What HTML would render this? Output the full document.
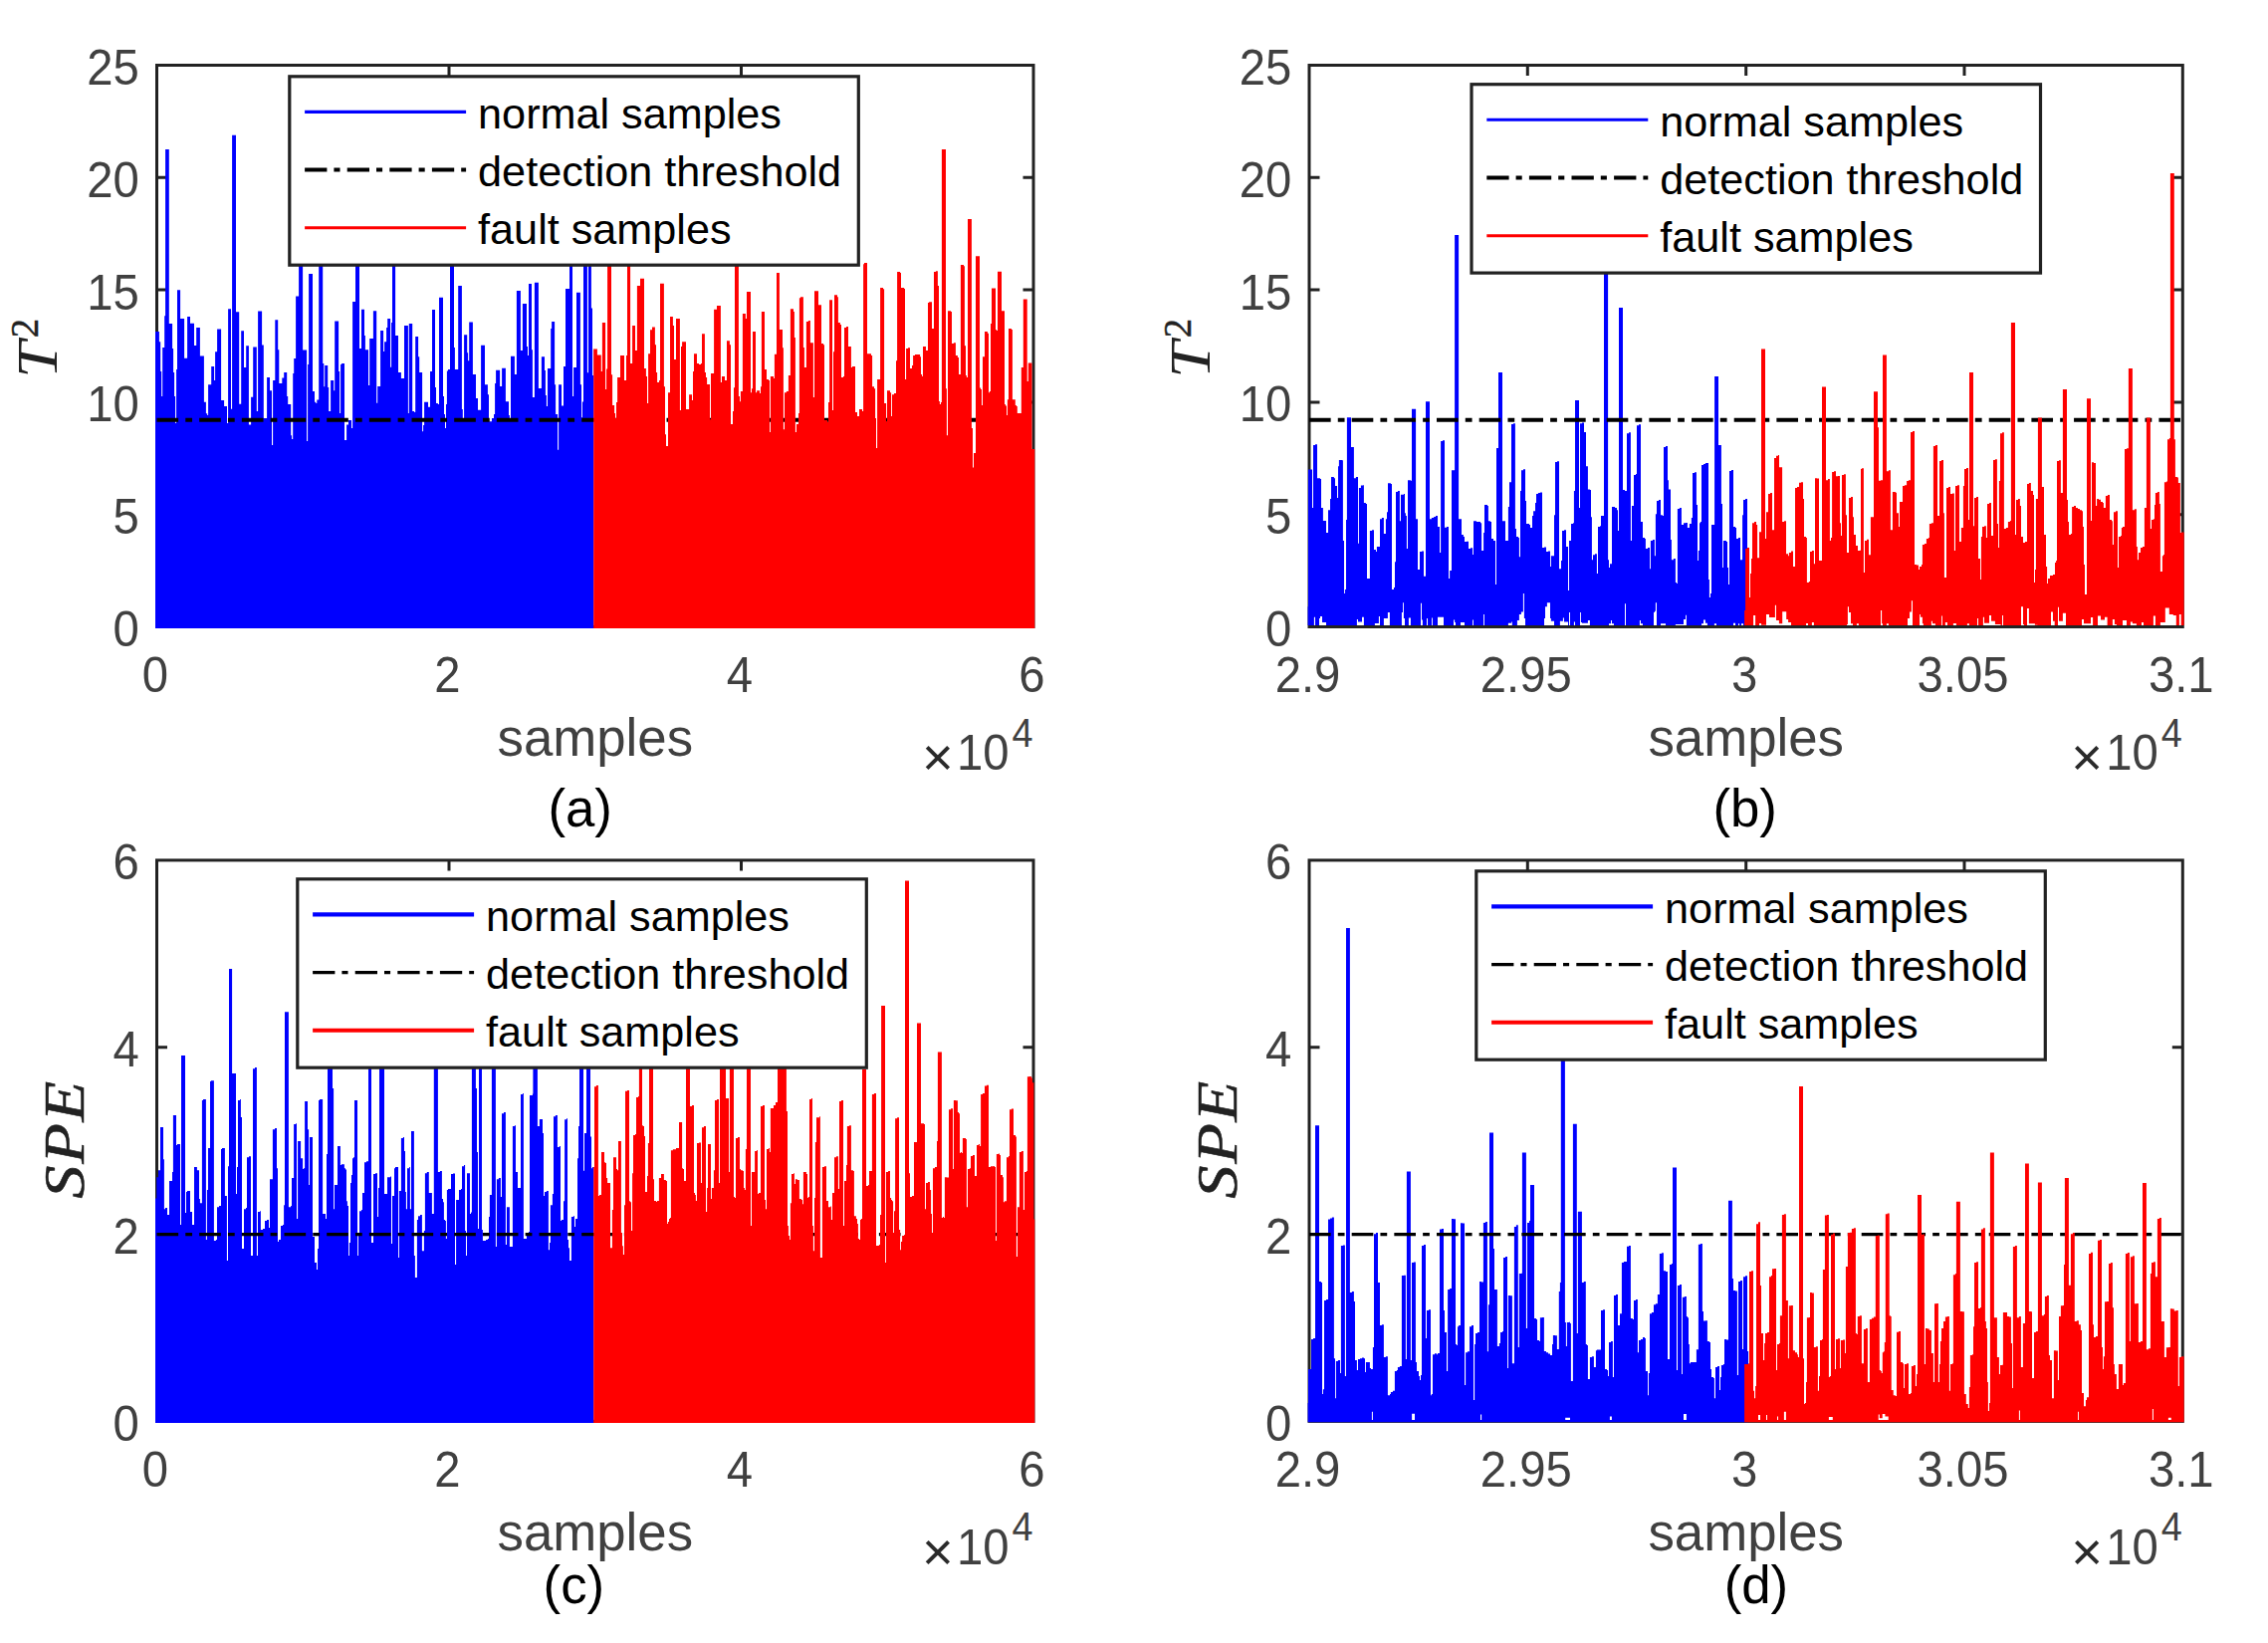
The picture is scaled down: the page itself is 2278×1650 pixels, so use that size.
<!DOCTYPE html>
<html lang="en"><head><meta charset="utf-8"><title>T2 and SPE monitoring charts</title>
<style>html,body{margin:0;padding:0;background:#fff}svg{display:block}</style></head><body>
<svg width="2278" height="1650" viewBox="0 0 2278 1650">
<rect width="2278" height="1650" fill="#fff"/>
<g id="panel-a">
<clipPath id="clip-a"><rect x="156" y="64" width="883.5" height="567"/></clipPath>
<rect x="157.5" y="65.5" width="880.5" height="564" fill="none" stroke="#222222" stroke-width="3"/>
<path d="M451 629.5v-10.5M451 65.5v10.5M744.5 629.5v-10.5M744.5 65.5v10.5M157.5 516.7h10.5M1038 516.7h-10.5M157.5 403.9h10.5M1038 403.9h-10.5M157.5 291.1h10.5M1038 291.1h-10.5M157.5 178.3h10.5M1038 178.3h-10.5" stroke="#222222" stroke-width="3" fill="none"/>
<g clip-path="url(#clip-a)">
<path d="M156 631V333.1H159.9V343.3H161.2V373H162.2V397.9H163.2V348.9H165.2V317.2H166.1V150H169.8V325.1H173.1V350.1H174.1V374.1H175.1V397.9H176.1V424.9H177.1V371H178V291.3H181.1V320.1H185.1V359.8H188.1V318.1H191V324.7H195V347H197.2V329.1H200.9V357.4H204.9V403.8H206.9V415.3H208.2V416.9H209.1V386.2H212.2V368.1H215.1V382H216.1V353.2H218.1V330.4H222.1V401.9H225.1V408.1H228V424.9H229.1V310.2H232V410.7H233.1V135.8H237V313.2H240.2V405.8H242.2V332.3H245V369H247.2V347.2H249.9V426.6H252.1V398.8H254.2V348.5H257.8V413H259.1V312.6H263.1V346.6H264.8V420H268.1V379H271V392.2H273V447.1H274.1V382H276.3V321.2H279.2V351.2H280.3V384.9H283.3V379.4H285.2V374.1H288.2V397.9H289.2V406.1H292.2V437.2H293.1V441.1H294.2V375H295.2V360.1H297.1V297.6H300.1V230.2H304.1V351.6H308.1V443.1H309.1V366.1H310.1V275.1H314V392.9H316V403.7H317.3V405H318.3V401.5H320.2V230.2H324.2V365.1H325.3V388.2H326.2V367.1H329.2V388.9H330.2V413H332.1V382H335.2V392.2H336.2V322.5H340.1V373H341.1V415.1H342.1V366.1H343.1V365.1H346V442.1H348.1V426.6H350V422H353V429.9H354.1V302.9H357V230.2H361V349.9H363V310.8H366V337H366.9V351.2H370V386.9H371.2V339.9H374.9V312.2H378.2V404.8H379.2V388H382.1V332H385.1V352.9H386.1V343.3H388.1V329.1H389.2V320.1H392.1V368.8H393.1V324.1H394V230.2H397.1V337H400V374.1H402.9V380H406V327.1H409.9V415.1H410.8V325.1H414.2V413H416.1V414H417.2V338H420.1V358.2H421.2V374.1H424.1V433.2H425.1V427H426.1V403.8H430V408.7H432V373H434V311.1H437V388.9H438V405H439.9V406.1H441V298.7H445V397.9H446V416H447V429.9H448V406.1H448.9V372.4H450V371H452V230.2H456V348.9H456.9V371H460.2V287H463.9V411.1H464.8V420.6H466.1V336.2H469.2V354.2H470.1V362.2H471.2V323.4H474.9V376.1H478V400.1H480V411.8H483.1V346.8H487V386.2H489.9V396.2H491V423.3H494V420H496V416H497.1V384.9H498.1V371.7H502.1V388H504.1V369.7H507.9V403.2H511V416.9H511.9V420.6H513V357.8H516.9V376.1H518.9V292.1H522.9V351.9H524.9V304.9H529V348.1H530V356.9H531V285.1H534V351.2H534.9V399.1H536.9V283.7H540.9V389.9H543.9V358.2H547V372.1H547.9V397.1H548.9V408.1H550V370.1H553.2V330H554.1V323.1H557.1V386.2H558.1V416H560.1V451.7H561.1V386.2H564V407.4H566V368.1H568V290.1H572V230.2H575V397.9H576.1V369H579V293.7H582.9V386.2H584V419.3H584.9V403.4H586V230.2H589.9V374.3H591V230.2H593.9V309.5H595V377H595.9V350.5H596.2V631Z" fill="#0000ff"/>
<path d="M157.5 421.7H1038" stroke="#000" stroke-width="4" stroke-dasharray="21.65 7.12 6.78 7.12" fill="none"/>
<path d="M596.2 631V350.5H599.9V356.5H603.8V373H604.9V324.1H608.1V390.9H609.1V370.4H610.1V230.2H614V376.3H615.1V407.1H617.1V415.1H618V420H619V404.1H620.1V379H623V356.9H627V382H629V357.1H630V230.2H633.1V365.1H635.1V327.1H638V351.9H639.9V287H643V279.8H647V370.1H648.9V378H650V405H651.1V355.2H653V331.3H655V328.4H657.9V346.3H659V374.1H660.1V384H662V382H663V284.7H666.9V388.2H668V436.2H669V448H671V394.2H673V318.1H675.9V327.1H677V361.1H679V320.1H682.9V412H684V348.1H685.1V343.3H689V411.1H692.1V396.2H695V402.1H696V373H697V355.2H700V365.1H702V366.1H704V365.1H705V335.3H707.9V374.1H709V379H710.1V386H713V421.3H714V375H717.1V310.8H720V306.9H723.9V384H725V378H728V382H730V342.2H732.9V346.2H734V425.9H736V413.1H737V389.2H738V230.2H741.9V398.1H743V403.2H743.9V393.1H745.9V315.1H748.9V320.1H750V293H754V394.2H755V390.2H756V333.1H759V394.2H760.1V392.2H763V395.1H764V388.2H764.9V313.1H768V371H770V381H772V382H773V434.1H773.9V378H777V380H777.9V355.8H780V274.1H782.9V331.1H786V349.2H786.9V431.2H788V394.2H789.9V393.1H791.9V377H793.9V310.2H797V313.1H797.9V339H798.9V434.1H800V425.9H802V415.1H802.9V299.2H804V298.3H806.9V348.9H807.9V369H809.9V323.1H811.9V322.1H813.9V344.2H816.9V399.1H818V292.3H822V306.2H825V345H827V346.3H828V422H831V423.9H832V404.1H833.1V301.2H836V412H837V353.2H838V296.3H841V298.3H841.9V324.1H843.9V326.1H845V379H847V378H848V329.1H850V328H852V348.1H854.9V369H856V368.1H859V414H861V418H863V411.1H866V413.1H867.1V265.2H868V263.9H871V355.2H875V357.1H876.1V388.2H878V390.2H879.1V420H880V450H881.1V381H884.1V289H887V290.3H888.1V405H890.1V423.3H891V392.2H894V394.2H895.1V418H896V396.2H898V395.1H900V362.2H901.1V273.1H904.1V274.1H905V289H908.1V290.1H909V381H910.1V350.1H912V349.2H914V370.1H916V367.1H917.1V357.1H919V356.1H924.1V358.2H925V376.1H926.1V378H927V348.1H930V351.9H932V304H933.1V303.2H936V330H938V273.1H939.9V272.2H941.9V287H943V403H943.9V406.1H945V404.1H945.9V150H950V390.2H950.9V437.2H952V312.2H955V313.1H956V345H957.9V344.2H959.9V356.9H961.9V359.1H963V376.1H964.9V266.1H968V267.2H968.9V347.2H970V377H970.9V379H972V220H975.9V429.9H977V469.6H978V455H980V257.3H984V389.6H985.1V391.1H986V407H987V358.2H989V333.1H991.9V334.7H993V394.2H994V393.1H995V325.1H996V289.4H1000V331.1H1000.9V332H1002V272.8H1006V312.2H1009V406.1H1009.9V407.4H1011V416.9H1011.9V401.2H1013V330H1015.9V331.1H1016.9V401.2H1019.8V407H1020.9V408.1H1021.8V415.1H1025.8V369H1027.8V300.5H1031.7V382.9H1032.8V364.4H1036.5V451.1H1039.5V631Z" fill="#ff0000"/>
</g>
<rect x="290.8" y="76.8" width="571.5" height="189.4" fill="#fff" stroke="#222222" stroke-width="3.2"/>
<path d="M306.1 112.4H468.1" stroke="#0000ff" stroke-width="3.1"/>
<path d="M306.1 170.6H468.1" stroke="#000" stroke-width="4" stroke-dasharray="22.3 7 6.1 7.2"/>
<path d="M306.1 228.8H468.1" stroke="#ff0000" stroke-width="3.1"/>
<g font-family="'Liberation Sans', Arial, Helvetica, sans-serif" font-size="43.2" fill="#000">
<text x="480.1" y="128.9">normal samples</text>
<text x="480.1" y="187.1">detection threshold</text>
<text x="480.1" y="245.3">fault samples</text>
</g>
<g font-family="'Liberation Sans', Arial, Helvetica, sans-serif" font-size="48" fill="#404040">
<text transform="translate(156 695.2) scale(0.985 1.045)" text-anchor="middle">0</text>
<text transform="translate(449.5 695.2) scale(0.985 1.045)" text-anchor="middle">2</text>
<text transform="translate(743 695.2) scale(0.985 1.045)" text-anchor="middle">4</text>
<text transform="translate(1036.5 695.2) scale(0.985 1.045)" text-anchor="middle">6</text>
<text transform="translate(139.8 649) scale(0.985 1.045)" text-anchor="end">0</text>
<text transform="translate(139.8 536.2) scale(0.985 1.045)" text-anchor="end">5</text>
<text transform="translate(139.8 423.4) scale(0.985 1.045)" text-anchor="end">10</text>
<text transform="translate(139.8 310.6) scale(0.985 1.045)" text-anchor="end">15</text>
<text transform="translate(139.8 197.8) scale(0.985 1.045)" text-anchor="end">20</text>
<text transform="translate(139.8 85) scale(0.985 1.045)" text-anchor="end">25</text>
<text x="926" y="779" font-size="54.4" fill="#2a2a2a">×</text>
<text transform="translate(961 773.1) scale(0.985 1.045)">10</text>
<text transform="translate(1016.4 749.5) scale(0.985 1.045)" font-size="38.4">4</text>
</g>
<text x="597.8" y="759.4" text-anchor="middle" font-family="'Liberation Sans', Arial, Helvetica, sans-serif" font-size="52.8" fill="#404040">samples</text>
<text x="582.7" y="830" text-anchor="middle" font-family="'Liberation Sans', Arial, Helvetica, sans-serif" font-size="52.8" fill="#000">(a)</text>
<g font-family="'Liberation Serif', 'Times New Roman', serif" fill="#222">
<text transform="translate(57.1 379.9) rotate(-90) scale(1.2 1)" font-style="italic" font-size="56">T</text>
<text transform="translate(38.1 339.3) rotate(-90)" font-size="39" stroke="#222" stroke-width="0.4">2</text>
</g>
</g>
<g id="panel-b">
<clipPath id="clip-b"><rect x="1313.5" y="64" width="880.3" height="567"/></clipPath>
<rect x="1315" y="65.5" width="877.3" height="564" fill="none" stroke="#222222" stroke-width="3"/>
<path d="M1534.3 629.5v-10.5M1534.3 65.5v10.5M1753.7 629.5v-10.5M1753.7 65.5v10.5M1973 629.5v-10.5M1973 65.5v10.5M1315 516.7h10.5M2192.3 516.7h-10.5M1315 403.9h10.5M2192.3 403.9h-10.5M1315 291.1h10.5M2192.3 291.1h-10.5M1315 178.3h10.5M2192.3 178.3h-10.5" stroke="#222222" stroke-width="3" fill="none"/>
<g clip-path="url(#clip-b)">
<path d="M1313.2 628V609.2H1314V471.6H1318V509.9H1319V447.1H1321V446.2H1323V480.2H1326V481.1H1327V509.9H1328.9V522.9H1332V535.1H1334V512.2H1336V501.1H1337V479.1H1339.9V480.2H1341V488.1H1343V500H1344V468.3H1344.9V462.1H1348V462.3H1348.9V543H1350V595.9H1350.9V592H1352V521.9H1352.9V419.3H1357V449.1H1359.9V480.2H1361.9V479.1H1364V545.7H1364.9V490.1H1366.9V487.5H1368.9V487.2H1369.9V505.1H1371.9V506H1373V581.1H1375.9V533.1H1378V532.2H1380V552H1382V554H1382.9V549H1386V521.2H1387.9V520.1H1389.9V536.1H1391.9V521.2H1393V514.2H1394V485.2H1396.9V486.1H1398V592H1400V590H1401V564.2H1402V494.1H1403.9V493.1H1405.9V523.2H1407V496.7H1409.9V496.1H1411V515.2H1411.9V518.1H1412.9V551H1414V482.2H1416.9V482.8H1418V410.7H1422.1V521.2H1424V572.1H1426V554H1428V553.6H1430V578.7H1432V403.3H1436V521.2H1437.9V520.1H1440.1V518.9H1442V518.1H1444V529.1H1446V554.9H1447.1V443.1H1449V442.2H1451V529.8H1453V529.1H1455V581.1H1456.1V573H1458V472.2H1461.1V236H1465.1V521.2H1468V537.1H1469.9V539H1471V544.1H1473V543.7H1475V551H1477V550.3H1479.1V556.9H1480V523.2H1483V524.1H1487V525.2H1488.1V552.9H1490.1V535.1H1491V507H1494V508H1494.9V523.2H1496.9V524.1H1498V541H1500V543H1502V586.9H1503V450H1505V374H1509V523.2H1512V543H1514.9V509H1516V484.2H1518V426H1519.9V425.3H1521.9V531.1H1523V539H1525V540.1H1525.9V559.2H1527V493.1H1528V472.2H1530V471.3H1532V503.1H1533V526.1H1536V526.9H1537V530.1H1539V518.1H1540.1V513.3H1542V505.1H1543V496.1H1544.9V495.1H1546.9V494.5H1549V550H1551V549.4H1553V554H1555V553.6H1557V569.1H1557.9V558.2H1561V517.2H1562V464H1564V463.3H1566V571.2H1568V563.1H1569V533.1H1571V532.2H1573V549H1575V593H1576V543H1578V526.1H1580V525.2H1580.9V493.1H1582V402H1586V509.9H1587V425.3H1589V424.4H1591V433.9H1593V468.3H1594.9V491.4H1596.9V492.1H1598V519.2H1598.9V562.2H1600V557.2H1602V556.2H1603.9V576.1H1605V628Z" fill="#0000ff"/>
<path d="M1605 628V529.1H1607V528.2H1608V518.1H1611V259.9H1615.1V562.2H1616V570.1H1617V566.2H1619V509H1622.1V509.9H1624V512.2H1625V533.1H1626V309H1630V492.1H1632V493.1H1634V435.2H1636V434.3H1637.9V543H1639V508H1641V476.9H1643V476H1644V427.3H1646V426.3H1648V524.1H1650V540.1H1652V541H1652.9V551H1655V550H1657V571.2H1657.9V543H1659.9V542H1661.9V558.2H1662.9V516.2H1664V503.1H1666V502H1668V517.2H1669.9V518.1H1671V449.1H1673V448H1675V482.2H1675.9V491.4H1678V542.1H1678.9V562.2H1680.9V561.1H1682.9V585.1H1684V586H1684.9V511H1686.9V509.9H1688.9V526.9H1691V525.2H1693V524.9H1694.9V530.1H1696.9V526.1H1698.9V520.1H1700V474.9H1702V474.2H1703.9V507H1705V563.1H1705.9V552.9H1707V525.2H1707.9V524.1H1709V467H1711V466H1712.9V465H1716V582H1716.9V599.9H1718V595.9H1719V527.1H1722.1V377.9H1726V447.1H1728.9V506H1730V570.1H1730.9V543H1734V544.1H1735V570.1H1736V586.9H1737V472.9H1739V472H1741V529.1H1743V530.1H1744V541H1746V540.1H1748V562.2H1750.1V517.2H1751V502H1753V501.1H1755V628Z" fill="#0000ff"/>
<path d="M1315 421.7H2192.3" stroke="#000" stroke-width="4" stroke-dasharray="21.65 7.12 6.78 7.12" fill="none"/>
<path d="M1752.1 628V613.1H1753.1V551H1755V550H1757V599.9H1758V576.1H1759V561.1H1760V525.2H1762V524.1H1764V527.1H1765.1V560.2H1767V534.2H1769V350.6H1773V541H1774V514.2H1776V496.1H1778V495.1H1780V532.2H1782V460.1H1784V457.7H1786V457H1787V469.2H1790.1V524.1H1792V523.2H1794V556.2H1796V558.2H1796.9V554.9H1799V553.6H1801V569.1H1803V490.1H1805V489H1807V484.8H1809V484.2H1811V501.1H1812V539H1814V540.1H1814.9V585.1H1816.9V584H1818V554H1819.9V552.9H1821.9V566.2H1823V480.2H1825V480.6H1827V563.1H1828.9V562.9H1830V388.4H1834V482.2H1836V481.1H1837.9V543H1839V540.1H1840.1V474H1842V473.2H1844V478.2H1846V477.9H1848V525.2H1849V538.1H1850V477.1H1852V476.2H1853.9V517.2H1855V554.9H1857V500H1859V499.1H1861V519.2H1862V537.1H1864V548H1866V552.9H1868V552.7H1869V470.9H1869.9V470.3H1871.9V575H1873V543H1875V541.7H1877V557.2H1878.9V519.2H1882V393.3H1886V429.3H1887V482.8H1889V482.2H1891V356.6H1894.9V473.2H1896.9V472.2H1898.9V532.2H1900.9V494.1H1903.9V494.7H1905V628Z" fill="#ff0000"/>
<path d="M1905 628V515.2H1907V529.1H1908V504H1911V488.1H1912.9V487.2H1915.1V483.1H1917V482.2H1919V433.9H1921V433H1923V567.1H1925V567.5H1927V572.1H1928V569.1H1930V567.1H1930.9V547H1932.9V546.1H1934.9V541H1936.9V540.1H1937.9V526.1H1939.9V525.2H1941.9V448H1943.9V447.1H1946V518.1H1948V463H1950V462.1H1952V515.2H1952.9V580.1H1955V490.1H1957V489H1959V496.1H1961V495.4H1962.9V552.9H1964V488.1H1966V487.2H1968V544.1H1969.9V530.1H1971.9V488.1H1973V470.9H1975V470H1977V521.9H1978V374H1982V528.2H1983V500H1985V499.1H1987V561.1H1989V582H1989.9V539H1991V529.1H1993V528.2H1994.9V540.1H1996V506H1998V505.1H2000V538.1H2002V462.1H2003.9V461.3H2005.9V526.1H2007V550H2007.9V483.1H2009V435.2H2011V434.3H2012.9V531.1H2014.9V530.1H2016.9V524.1H2018.9V522.9H2019.9V324H2024V537.1H2025V502H2027V501.1H2028.9V508H2030V539H2032V545H2034V544.1H2036V486.1H2037.9V485.1H2039.9V493.1H2042V497.1H2043V585.1H2044V572.1H2044.9V501.1H2046.9V419.6H2050.9V489H2053V537.1H2055V569.1H2056.1V586H2057V581.1H2059V578.1H2062V577.1H2064V565.1H2065.1V563.1H2066V463H2068V462.3H2069.9V495.1H2071.9V390.9H2076V502H2077V524.1H2078V537.1H2080V536.1H2081.1V509H2083V508H2085V509.9H2087V511H2089V512.2H2091V513.3H2092V529.1H2093V567.1H2094V597H2096V400.2H2100V522.9H2101V464.3H2103V465H2105V508H2106.1V501.1H2108V501.7H2110V504H2112V505.1H2112.9V509.9H2114.9V498H2116.9V497.1H2119V522.1H2121V523.2H2121.9V547H2123V514.2H2125V513.3H2127V570.1H2128V539H2130V538.1H2130.9V530.1H2132V529.1H2134V451.1H2136V450.2H2137.9V370H2141.9V512.2H2143.9V511.3H2145.9V549H2146.9V562.2H2148V554.9H2150V550H2152V549H2153.9V509.9H2155.9V419.6H2159.9V531.1H2161V521.9H2162.9V521.2H2164V507H2164.9V495.1H2166.9V494.1H2168.9V506H2169.9V574.1H2171.9V558.2H2173V556.9H2173.9V484.2H2175.9V483.5H2177V441.2H2178.9V440.1H2179.9V174H2183.8V441.2H2184.9V479.1H2186.9V479.5H2187.9V485.1H2189.9V535.1H2191V534.4H2193.8V628Z" fill="#ff0000"/>
<path d="M1319.9 628H1321V619.7H1319.9ZM1325 628H1326V621.1H1325ZM1326 628H1328V619.1H1326ZM1328 628H1332V625H1328ZM1362.9 628H1364V622H1362.9ZM1364 628H1368V624.4H1364ZM1368 628H1369.9V619.7H1368ZM1380.9 628H1384.9V626.1H1380.9ZM1384.9 628H1386V619.1H1384.9ZM1389.9 628H1393.9V621.1H1389.9ZM1393.9 628H1395.9V615.1H1393.9ZM1407.9 628H1409.9V615.1H1407.9ZM1409 628H1409.9V605.2H1409ZM1409.9 628H1411V621.1H1409.9ZM1414.9 628H1416.9V620.4H1414.9ZM1427 628H1428V605.8H1427ZM1428 628H1428.9V622.4H1428ZM1433 628H1434V621.1H1433ZM1438.1 628H1439V620.4H1438.1ZM1444 628H1450V619.7H1444ZM1460 628H1461.1V622.4H1460ZM1461.1 628H1462V625H1461.1ZM1467 628H1471V625H1467ZM1479.1 628H1480V622.4H1479.1ZM1490.1 628H1491V617.1H1490.1ZM1514.9 628H1518V625.7H1514.9ZM1518 628H1518.8V624.4H1518ZM1523.9 628H1525.9V623H1523.9ZM1525.9 628H1527.9V617.1H1525.9ZM1527.9 628H1529.9V614.4H1527.9ZM1529.9 628H1530.9V595.9H1529.9ZM1530.9 628H1532V621.1H1530.9ZM1551 628H1552V621.1H1551ZM1552 628H1553.9V609.2H1552ZM1553.9 628H1557V605.2H1553.9ZM1557 628H1557.9V621.1H1557ZM1557.9 628H1561V623.7H1557.9ZM1566.9 628H1569.9V623.7H1566.9ZM1569.9 628H1571V620.4H1569.9ZM1571 628H1575V624.4H1571ZM1576 628H1577V615.1H1576ZM1580.9 628H1582V624.4H1580.9ZM1587 628H1587.9V615.1H1587ZM1587.9 628H1589V625H1587.9ZM1589 628H1594.9V625.7H1589ZM1594.9 628H1596.9V623H1594.9ZM1616 628H1618V626.3H1616ZM1618 628H1619V623H1618ZM1619 628H1621V626.3H1619ZM1632 628H1633V606.2H1632ZM1646.9 628H1648V623H1646.9ZM1648 628H1650V626.3H1648ZM1661 628H1661.9V615.1H1661ZM1661.9 628H1664V613.8H1661.9ZM1662.9 628H1664V605.2H1662.9ZM1664 628H1668V627.9H1664ZM1668 628H1673V626.3H1668ZM1682.9 628H1691V627H1682.9ZM1691 628H1693V622H1691ZM1693 628H1693.9V617.8H1693ZM1709 628H1711V626.3H1709ZM1711 628H1712.9V622.4H1711ZM1712.9 628H1714.9V625.7H1712.9ZM1721.9 628H1724V626.3H1721.9ZM1724 628H1728V627.9H1724ZM1735 628H1741V627.9H1735ZM1741 628H1743V625.7H1741ZM1746 628H1747.1V626.3H1746ZM1749 628H1751V626.3H1749ZM1761.1 628H1763.1V618H1761.1ZM1767 628H1769V626.1H1767ZM1769 628H1774V627.7H1769ZM1774 628H1777V617.1H1774ZM1777 628H1782.9V620H1777ZM1782.9 628H1784V607.8H1782.9ZM1784 628H1786.9V623H1784ZM1786.9 628H1790.2V626.3H1786.9ZM1790.2 628H1794.2V614.2H1790.2ZM1794.2 628H1796.1V622H1794.2ZM1796.1 628H1799V625H1796.1ZM1814 628H1816V626.1H1814ZM1819.9 628H1821.9V625H1819.9ZM1855 628H1855.9V627H1855ZM1855.9 628H1857V609.2H1855.9ZM1857 628H1859V615.1H1857ZM1859 628H1861V626.3H1859ZM1864.9 628H1866.9V626.3H1864.9ZM1889 628H1890.1V613.1H1889ZM1890.1 628H1891V626.3H1890.1ZM1894.9 628H1896.9V626.3H1894.9ZM1916 628H1918V621.1H1916ZM1918 628H1919.9V614.4H1918ZM1919.9 628H1921V603.2H1919.9ZM1928 628H1928.9V617.1H1928ZM1928.9 628H1930.9V619.7H1928.9ZM1930.9 628H1931.9V626.3H1930.9ZM1939.9 628H1941V623.7H1939.9ZM1941 628H1943.9V626.3H1941ZM1950 628H1950.9V618.4H1950ZM1953.9 628H1955.9V625H1953.9ZM1961.9 628H1964.9V626.1H1961.9ZM1975.9 628H1977.9V626.3H1975.9ZM1986 628H1987V621.1H1986ZM1991.9 628H1993V619.7H1991.9ZM1993 628H1998V625.7H1993ZM1998 628H2000V618H1998ZM2000 628H2003.9V623.7H2000ZM2003.9 628H2009.5V627H2003.9ZM2011 628H2012V618H2011ZM2030 628H2032V609.2H2030ZM2032 628H2032.9V627H2032ZM2036 628H2037.9V611.1H2036ZM2037.9 628H2043.9V626.3H2037.9ZM2043.9 628H2046.5V627.7H2043.9ZM2060 628H2062V614.4H2060ZM2062 628H2063.7V623.7H2062ZM2067 628H2068V609.8H2067ZM2068 628H2071.9V623.7H2068ZM2071.9 628H2075V615.8H2071.9ZM2091 628H2093V622H2091ZM2093 628H2100V626.3H2093ZM2100 628H2102.1V620H2100ZM2107 628H2110V618.4H2107ZM2110 628H2114V622.4H2110ZM2114 628H2116.6V619.7H2114ZM2121.9 628H2123.9V622H2121.9ZM2123.9 628H2125.9V627H2123.9ZM2132 628H2136V623H2132ZM2139.9 628H2141.9V624.4H2139.9ZM2141.9 628H2145.9V626.3H2141.9ZM2151 628H2153V625H2151ZM2162.9 628H2164.9V618.4H2162.9ZM2169.9 628H2174.8V625H2169.9ZM2174.8 628H2178.8V610.5H2174.8ZM2178.8 628H2182.8V617.1H2178.8ZM2182.8 628H2185.8V618H2182.8ZM2188.9 628H2190.7V617.1H2188.9Z" fill="#fff"/>
</g>
<rect x="1478" y="84.7" width="571.5" height="189.4" fill="#fff" stroke="#222222" stroke-width="3.2"/>
<path d="M1493.3 120.3H1655.3" stroke="#0000ff" stroke-width="3.1"/>
<path d="M1493.3 178.5H1655.3" stroke="#000" stroke-width="4" stroke-dasharray="22.3 7 6.1 7.2"/>
<path d="M1493.3 236.7H1655.3" stroke="#ff0000" stroke-width="3.1"/>
<g font-family="'Liberation Sans', Arial, Helvetica, sans-serif" font-size="43.2" fill="#000">
<text x="1667.3" y="136.8">normal samples</text>
<text x="1667.3" y="195">detection threshold</text>
<text x="1667.3" y="253.2">fault samples</text>
</g>
<g font-family="'Liberation Sans', Arial, Helvetica, sans-serif" font-size="48" fill="#404040">
<text transform="translate(1313.5 695.2) scale(0.985 1.045)" text-anchor="middle">2.9</text>
<text transform="translate(1532.8 695.2) scale(0.985 1.045)" text-anchor="middle">2.95</text>
<text transform="translate(1752.2 695.2) scale(0.985 1.045)" text-anchor="middle">3</text>
<text transform="translate(1971.5 695.2) scale(0.985 1.045)" text-anchor="middle">3.05</text>
<text transform="translate(2190.8 695.2) scale(0.985 1.045)" text-anchor="middle">3.1</text>
<text transform="translate(1297.3 649) scale(0.985 1.045)" text-anchor="end">0</text>
<text transform="translate(1297.3 536.2) scale(0.985 1.045)" text-anchor="end">5</text>
<text transform="translate(1297.3 423.4) scale(0.985 1.045)" text-anchor="end">10</text>
<text transform="translate(1297.3 310.6) scale(0.985 1.045)" text-anchor="end">15</text>
<text transform="translate(1297.3 197.8) scale(0.985 1.045)" text-anchor="end">20</text>
<text transform="translate(1297.3 85) scale(0.985 1.045)" text-anchor="end">25</text>
<text x="2080.3" y="779" font-size="54.4" fill="#2a2a2a">×</text>
<text transform="translate(2115.3 773.1) scale(0.985 1.045)">10</text>
<text transform="translate(2170.7 749.5) scale(0.985 1.045)" font-size="38.4">4</text>
</g>
<text x="1753.7" y="759.4" text-anchor="middle" font-family="'Liberation Sans', Arial, Helvetica, sans-serif" font-size="52.8" fill="#404040">samples</text>
<text x="1752.7" y="830" text-anchor="middle" font-family="'Liberation Sans', Arial, Helvetica, sans-serif" font-size="52.8" fill="#000">(b)</text>
<g font-family="'Liberation Serif', 'Times New Roman', serif" fill="#222">
<text transform="translate(1214.6 379.9) rotate(-90) scale(1.2 1)" font-style="italic" font-size="56">T</text>
<text transform="translate(1195.6 339.3) rotate(-90)" font-size="39" stroke="#222" stroke-width="0.4">2</text>
</g>
</g>
<g id="panel-c">
<clipPath id="clip-c"><rect x="156" y="862.4" width="883.5" height="566.5"/></clipPath>
<rect x="157.5" y="863.9" width="880.5" height="563.5" fill="none" stroke="#222222" stroke-width="3"/>
<path d="M451 1427.4v-10.5M451 863.9v10.5M744.5 1427.4v-10.5M744.5 863.9v10.5M157.5 1239.6h10.5M1038 1239.6h-10.5M157.5 1051.7h10.5M1038 1051.7h-10.5" stroke="#222222" stroke-width="3" fill="none"/>
<g clip-path="url(#clip-c)">
<path d="M156 1428.9V1203.6H157.3V1182.2H159V1175.2H161V1131.9H164V1164.2H164.9V1214.2H166V1213.1H168V1220.1H170V1186.1H173V1177.1H173.9V1120H177V1150H178V1149.1H181V1230.1H182V1060.1H186V1218.1H187V1197H188V1196.1H191V1217.1H193V1230.1H195V1172.1H197.9V1175.2H200V1204H200.9V1208.2H202.9V1105.1H204V1104.1H206.9V1244.9H207.9V1195H209V1153.1H211V1085.9H211.9V1085.2H214.9V1245.9H216.9V1244.9H218V1212.2H220V1211.1H222V1154H223V1153.1H225.9V1201H227.9V1266H229V1171.2H230V972.9H233.1V1077.9H237V1199H238V1171.9H239V1105.1H241V1104.1H241.9V1122H243V1254.1H245V1214.2H247V1213.1H248V1162.2H250V1161.3H252V1261.1H254V1073.3H256V1072H257.9V1261.1H259V1217.1H261V1216.2H261.9V1235.1H264V1234H266V1226.1H268V1225H270V1233.1H271V1184.2H273.9V1134.2H276.1V1133.1H278V1173.2H279V1247H280V1244.9H282V1231.1H284V1230.1H285.1V1210.2H286V1016.2H289.9V1212.2H292.1V1211.1H293V1183.1H295.1V1128.9H297.1V1128.2H298V1224.1H299.1V1146.1H302.1V1163.3H304.1V1174.1H305V1173.2H306.1V1106H309V1134.2H310.1V1190.1H311V1142.1H314V1242H316V1268H318V1275H319V1254.1H320V1105.1H321V1104.1H324.1V1219.1H327V1224.1H328V1159H329V1056.8H334V1093.1H335.1V1214.2H336V1190.1H339V1151.1H341.9V1169.9H343V1169.2H345.9V1173.2H347V1174.5H348V1206.2H348.9V1211.1H350V1261.1H350.9V1247.9H352V1188.1H353V1180.1H354V1163.3H355V1162.2H356V1105.1H359V1261.1H359.9V1238H361V1216.2H363V1215.1H364V1198H366V1167.2H368V1166.2H370V1056.8H373V1247.9H375V1179.1H377V1178.2H379V1222.1H380V1193H381V1056.8H386V1199H389V1182.2H392.1V1181.4H393V1249H394V1201H396V1173.2H397V1172.1H400V1263.1H400.9V1196.1H402.9V1143.1H404.9V1142.1H406V1156H407V1197H407.9V1214.2H409V1173.2H411V1172.1H411.9V1214.2H413V1136.1H415.9V1261.1H416.9V1283H418.9V1225H420V1221.2H422V1220.1H423.9V1256.2H425.9V1236H426.9V1178.2H428.8V1177.1H430.8V1198H433.9V1219.1H435.8V1056.8H439.9V1176.9H441.9V1176.1H443.9V1204H445V1207.2H445.9V1225H447V1226.1H447.9V1243.9H448.9V1195H450V1194.1H453V1179.1H455V1178.5H457V1270H458.1V1204.9H461V1195H463V1194.1H464V1171.2H466V1170.1H467.1V1236H468V1261.1H469V1178.2H472V1219.1H473V1217.5H473.9V1056.8H477.9V1093.1H479V1157H480V1234H481V1056.8H484V1235.1H484.9V1245.9H488V1244.9H489.9V1243.9H491V1222.1H491.9V1200H493.9V1056.8H497.9V1252.1H498.9V1184.2H500.9V1183.1H502.9V1202H504V1118.3H506V1117H507.9V1249.9H509V1212.2H511.9V1252.1H513.9V1251.9H514.9V1131.1H516.9V1130.2H518V1177.1H520V1193H523V1099.1H525V1098H525.9V1243.9H529V1238H531V1236.9H532V1100H534.9V1098.4H535.4V1056.8H539.9V1131.1H541.9V1124H545V1138.1H546V1201H547V1197H548.9V1196.1H550.9V1255.2H552V1247.9H552.9V1210.2H554.9V1199H556V1121.2H557.9V1120H559.9V1152H561.9V1151.1H563V1226.1H564V1225H566V1206.2H567.1V1124.2H569V1123.2H570V1244.9H571V1253.2H572V1266H573.9V1222.1H575.9V1221.2H577V1232H578V1224.1H580V1163.3H581V1131.1H582V1056.8H586V1175.8H587V1138.1H589V1056.8H593V1141.4H594V1173.2H595V1172.1H596.2V1428.9Z" fill="#0000ff"/>
<path d="M157.5 1239.6H1038" stroke="#000" stroke-width="3.2" stroke-dasharray="21.65 7.12 6.78 7.12" fill="none"/>
<path d="M596.2 1428.9V1172.1H597V1091.2H598.9V1090.1H600.9V1201H602V1200H604V1157H607V1167.2H608.1V1168.1H609V1183.1H610.1V1188.1H613V1253.2H614.9V1215.1H616V1162.2H619V1174.1H620V1175.2H621V1146.1H623.9V1238H625V1251.2H625.9V1260.1H627V1210.2H628V1095.8H630V1095.1H632V1206.2H633.1V1207.2H634V1236H635.1V1178.2H636V1140.1H638V1139H639V1102.1H641V1101.1H641.9V1056.8H645V1130.2H645.9V1131.1H647V1141H648V1197H650V1181.1H650.9V1148H652V1056.8H656V1184.2H657V1206H659V1206.9H659.9V1206H661.9V1183.1H664V1179.1H666.9V1185.1H668.9V1186.1H670V1229.1H670.9V1227.1H672V1224.1H673V1223H673.9V1155.3H675.9V1154.3H679V1153.1H682V1127.1H685.1V1173.2H686V1174.1H687V1186.1H689V1056.8H693V1111H695V1110.1H697V1198H698V1200H698.9V1206H700V1148H702V1147.4H704V1188.1H705V1132.2H707V1131.1H709V1217.1H710.1V1193H711V1149.1H714V1204H714.9V1193H716.9V1175.2H718V1105.1H720V1104.1H722V1188.1H723V1056.8H729V1103.1H732V1176.9H732.9V1056.8H737V1202H738V1202.9H739V1143.1H741V1142.1H743V1174.1H743.9V1175.2H745.9V1176.1H747V1193H747.9V1195H748.9V1154H750V1056.8H754V1231.1H755V1177.1H758.1V1156H760.1V1155.1H761V1199H762V1198H764V1111H766V1110.1H768V1204.9H769V1214.2H770V1154H772V1153.1H773V1157H773.9V1113H777V1110.1H779V1107H781V1056.8H789.9V1116H791V1231.1H791.9V1240.9H793V1244.9H793.9V1208.2H795V1179.1H797V1178.2H797.9V1189H798.9V1184.2H800.9V1185.1H802.9V1204H804.9V1204.9H806V1209.2H806.9V1177.1H809.9V1179.1H811V1202.9H811.9V1202H813V1104.1H814.9V1103.1H816V1231.1H816.9V1256.2H818V1202.9H818.9V1147.1H820V1122.2H823V1121.2H823.9V1263.1H825.9V1172.1H827.9V1171.2H830V1206H832V1212.2H834V1211.5H834.9V1225H836V1198H838V1162.2H839.9V1161.3H841.9V1194.1H843V1106H845V1105.1H847V1231.1H848V1186.1H850V1170.1H850.9V1131.1H852.9V1130.2H854.9V1175.2H856.9V1176.1H857.9V1221.2H859.9V1224.1H861V1229.1H861.9V1243.9H863V1244.9H864V1225H864.9V1224.1H866V1074H870V1191H872V1190.1H873V1176.1H875.9V1099.1H877.9V1098H880V1251H882.9V1249.9H884V1220.1H885.1V1009.9H889V1268H889.9V1177.1H892.1V1176.1H894V1202.9H895.1V1204.9H896V1206.2H897.1V1238H898V1216.2H899.1V1123.2H901.1V1122.2H903V1235.1H904.1V1255.2H905V1247H906.1V1240.9H908.1V1240H909V884.6H913V1178.2H914V1202H916V1201H918V1147.1H921V1027.5H925V1128.2H928V1129.1H929V1214.2H930V1188.1H932V1187.1H934V1195H935.1V1219.1H936V1238H937V1173.2H939V1172.1H941V1146.1H941.9V1056.4H945.9V1223H947V1222.1H948V1223H948.9V1182.2H950.9V1182.4H953V1114.3H955V1113.3H957V1174.1H957.9V1105.1H959.9V1105.3H961.9V1117H963V1118.3H964V1158H964.9V1157H966V1158H966.9V1143.1H970V1144.1H970.9V1212.2H972V1174.1H973.9V1173.2H975V1161H977V1159.9H979V1181.1H981V1150H982.9V1149.1H984V1151.1H985.1V1099.1H987V1098H989V1090.5H991V1089.8H993V1171.9H995V1171.2H998V1170.9H998.9V1172.1H1000V1245.9H1000.9V1159H1002.9V1158.4H1004V1159.9H1005V1180.1H1007V1182.2H1007.9V1207.2H1009V1206.2H1011V1162.2H1013V1161H1014V1114.3H1015.9V1113.4H1018V1140.1H1020V1141.4H1020.9V1262.1H1022V1212.2H1023.9V1157H1025.9V1156H1027.9V1215.1H1029V1177.1H1031V1176.1H1031.9V1081.2H1033.9V1081H1035.8V1082.6H1036.9V1087.2H1038.4V1224.5H1038.5V1224.5H1039.5V1428.9Z" fill="#ff0000"/>
</g>
<rect x="298.8" y="882.8" width="571.5" height="189.4" fill="#fff" stroke="#222222" stroke-width="3.2"/>
<path d="M314.1 918.4H476.1" stroke="#0000ff" stroke-width="4.1"/>
<path d="M314.1 976.6H476.1" stroke="#000" stroke-width="3.2" stroke-dasharray="22.3 7 6.1 7.2"/>
<path d="M314.1 1034.8H476.1" stroke="#ff0000" stroke-width="4.1"/>
<g font-family="'Liberation Sans', Arial, Helvetica, sans-serif" font-size="43.2" fill="#000">
<text x="488.1" y="934.9">normal samples</text>
<text x="488.1" y="993.1">detection threshold</text>
<text x="488.1" y="1051.3">fault samples</text>
</g>
<g font-family="'Liberation Sans', Arial, Helvetica, sans-serif" font-size="48" fill="#404040">
<text transform="translate(156 1493.1) scale(0.985 1.045)" text-anchor="middle">0</text>
<text transform="translate(449.5 1493.1) scale(0.985 1.045)" text-anchor="middle">2</text>
<text transform="translate(743 1493.1) scale(0.985 1.045)" text-anchor="middle">4</text>
<text transform="translate(1036.5 1493.1) scale(0.985 1.045)" text-anchor="middle">6</text>
<text transform="translate(139.8 1446.9) scale(0.985 1.045)" text-anchor="end">0</text>
<text transform="translate(139.8 1259.1) scale(0.985 1.045)" text-anchor="end">2</text>
<text transform="translate(139.8 1071.2) scale(0.985 1.045)" text-anchor="end">4</text>
<text transform="translate(139.8 883.4) scale(0.985 1.045)" text-anchor="end">6</text>
<text x="926" y="1576.9" font-size="54.4" fill="#2a2a2a">×</text>
<text transform="translate(961 1571) scale(0.985 1.045)">10</text>
<text transform="translate(1016.4 1547.4) scale(0.985 1.045)" font-size="38.4">4</text>
</g>
<text x="597.8" y="1557.3" text-anchor="middle" font-family="'Liberation Sans', Arial, Helvetica, sans-serif" font-size="52.8" fill="#404040">samples</text>
<text x="576.4" y="1609.6" text-anchor="middle" font-family="'Liberation Sans', Arial, Helvetica, sans-serif" font-size="52.8" fill="#000">(c)</text>
<text transform="translate(84 1203.7) rotate(-90) scale(1.19 1)" font-family="'Liberation Serif', 'Times New Roman', serif" font-style="italic" font-size="56" fill="#222" stroke="#222" stroke-width="0.5" letter-spacing="1.3">SPE</text>
</g>
<g id="panel-d">
<clipPath id="clip-d"><rect x="1313.5" y="862.4" width="880.3" height="566.5"/></clipPath>
<rect x="1315" y="863.9" width="877.3" height="563.5" fill="none" stroke="#222222" stroke-width="3"/>
<path d="M1534.3 1427.4v-10.5M1534.3 863.9v10.5M1753.7 1427.4v-10.5M1753.7 863.9v10.5M1973 1427.4v-10.5M1973 863.9v10.5M1315 1239.6h10.5M2192.3 1239.6h-10.5M1315 1051.7h10.5M2192.3 1051.7h-10.5" stroke="#222222" stroke-width="3" fill="none"/>
<g clip-path="url(#clip-d)">
<path d="M1313.2 1428.3V1409.1H1314V1375.1H1317V1345H1319V1344.1H1321V1130.3H1325V1287H1327V1288.1H1328V1400.1H1328.9V1395.2H1330V1306H1332V1305H1334V1224.6H1336V1223.6H1337.9V1222.4H1339.9V1364.2H1341V1404.2H1341.9V1367.1H1343.9V1366.1H1346V1379.1H1346.9V1251.1H1348.9V1250.4H1350.9V1382H1352V932H1355.9V1298H1357.9V1297.1H1359.9V1307H1361V1366.1H1362.9V1376.1H1364V1365.1H1366V1364.2H1368V1363.5H1369.9V1364.2H1371V1378.1H1371.9V1368.1H1373.9V1367.9H1375.9V1374.1H1377V1375.1H1378.9V1352.9H1380V1239.2H1382V1238.1H1384V1288.1H1386V1331.1H1387.9V1330.2H1389.9V1363.1H1391.9V1362.2H1393.9V1401.2H1396V1399.9H1396.9V1397.9H1398.9V1396.8H1400.9V1377.1H1402.9V1376.1H1403.9V1373H1405.9V1372.1H1407.9V1281.1H1409.9V1280.8H1411.9V1365.1H1412.9V1176.5H1416.9V1366.1H1418V1268H1419.9V1267.6H1421.9V1368.1H1423V1377.1H1425V1382H1426V1386H1427V1381.1H1428V1251.1H1430V1250.1H1432V1344.1H1433V1316.1H1435V1315.2H1437V1401.2H1437.9V1399.9H1439V1360.2H1441V1359.3H1443V1360.2H1444V1359.1H1446V1234.5H1448V1233.9H1450V1316.1H1451V1338.1H1453V1377.1H1454.1V1295.1H1456.1V1294.1H1458V1224H1460V1224.3H1462V1350H1463.1V1350.9H1464V1332.2H1465.1V1331.1H1467V1228.3H1469V1228.6H1471V1391H1472.1V1358.2H1474V1357.2H1476V1332.2H1478V1331.1H1480V1406.1H1481.1V1350H1482V1339H1484V1338.1H1486V1287H1487.9V1287.4H1489.9V1227.9H1491.9V1227H1493.9V1357.2H1494.9V1310.2H1496V1137.4H1500V1254H1501V1295.1H1503.9V1352H1505.9V1349H1507V1338.1H1509V1337H1510V1263H1512V1262H1514V1374.1H1514.9V1301.1H1516.9V1301.3H1518.9V1369.2H1520.9V1231.9H1522.9V1230.2H1524.8V1352.9H1525.9V1279.1H1527.9V1278.8H1528.9V1157.6H1532.9V1334.1H1534V1227.9H1536V1225.9H1537V1190H1541V1324.1H1543V1324.9H1544V1346H1546V1347H1546.9V1323.2H1548.9V1322.9H1550.9V1356.9H1553V1358.2H1555V1359.5H1557V1361.1H1559V1350H1559.9V1341H1561.9V1341.3H1563.9V1354.9H1565.8V1297.1H1566.9V1288.1H1567.8V1060.1H1571.9V1328.1H1572.9V1352H1573.9V1328.1H1575.9V1327.8H1577V1329.1H1577.9V1387H1579.9V1128.8H1583.8V1339H1584.9V1216.7H1588.9V1288.1H1590.8V1287H1592.8V1350H1593.9V1350.9H1594.9V1384.9H1596.9V1363.1H1598.9V1362.2H1600.9V1373H1602.9V1356.2H1603.9V1355.6H1605V1428.3Z" fill="#0000ff"/>
<path d="M1605 1428.3V1355.6H1608V1316.1H1610V1315.2H1612V1375.1H1614V1376.1H1615.1V1382H1616V1348H1618V1347H1619.9V1383.1H1621V1301.1H1623V1300H1625V1331.1H1627V1319.2H1628.9V1268H1630.9V1266.9H1634V1251.7H1636V1251.1H1637.9V1324.1H1639.9V1324.9H1641V1306H1643V1305H1644.9V1358.2H1646V1346H1648V1345H1650V1343H1652V1344.1H1652.9V1377.1H1655V1401.2H1655.9V1379.1H1657V1319.2H1659V1318.1H1661V1310.2H1662.9V1309.3H1664.9V1300H1666.9V1259H1668.9V1258.3H1670.9V1276.2H1673V1276.9H1675V1365.1H1677V1270H1678.9V1268.9H1680V1172.5H1684V1376.1H1685V1291.1H1687V1290.1H1689V1380H1689.9V1302.7H1691.9V1302H1693.9V1322.1H1694.9V1323.2H1696V1350H1696.9V1369.2H1698V1368.1H1700V1367.9H1702V1368.1H1703.9V1355.2H1705.9V1249.7H1707.9V1249.1H1709.9V1316.9H1711V1326.5H1712.9V1326.2H1714.9V1347H1716.9V1348H1718V1375.1H1719V1383.1H1721V1384H1721.9V1404.2H1723V1373H1725V1372.1H1727V1395.9H1728V1383.1H1728.9V1371H1730.9V1370.1H1732V1345H1734V1345.4H1736V1205.7H1739.9V1284.1H1741V1296H1743V1296.4H1744.9V1381.1H1746V1287H1748V1286.1H1750V1354.9H1751V1282.2H1753V1281.2H1755V1356.9H1756.1V1428.3Z" fill="#0000ff"/>
<path d="M1315 1239.6H2192.3" stroke="#000" stroke-width="3.2" stroke-dasharray="21.65 7.12 6.78 7.12" fill="none"/>
<path d="M1752.1 1428.3V1370.1H1755V1369.9H1756.1V1369.2H1757V1277.1H1759V1276.2H1761V1396.8H1762V1404.2H1763.1V1391.9H1764V1229.2H1766V1227.3H1768V1291.1H1769V1339H1771V1366.1H1772.1V1349H1773V1339H1775V1338.1H1777V1282.2H1778.9V1281.1H1780V1274.2H1782V1274H1784V1376.1H1785V1350H1787V1349H1787.9V1321.2H1789.9V1220H1791.9V1219.3H1793.9V1306H1795.9V1364.2H1796.9V1311.3H1798.9V1311H1800.9V1356.2H1803V1358.2H1805V1360.2H1805.9V1363.1H1807V1091.1H1811V1364.2H1812V1410.1H1812.9V1409.1H1814V1388H1814.9V1323.2H1816.9V1322.9H1818V1298H1819.9V1298.4H1821.9V1352.9H1823.9V1352.3H1825.9V1396.8H1827V1382H1828V1346H1830V1345H1830.9V1274.9H1832.9V1220.4H1834.9V1220H1836.9V1383.1H1837.9V1382H1839V1239.8H1841V1238.5H1843V1375.1H1844V1345H1846V1344.3H1848V1374.1H1848.9V1346H1851V1345.4H1853V1359.1H1853.9V1272H1855.9V1238.1H1857.9V1237.8H1859.9V1233.9H1861.9V1233.2H1863.9V1339H1864.9V1340H1865.8V1322.1H1867.8V1321.2H1869.9V1369.2H1871.9V1335.1H1873.9V1334.1H1875.9V1388H1877.9V1325.1H1879.9V1323.8H1881.9V1322.5H1883.8V1241.1H1885.8V1240.5H1887.8V1376.1H1888.9V1377.1H1889.8V1379.1H1890.8V1358.2H1891.8V1357.2H1892.8V1348H1893.8V1219.3H1895.7V1218.4H1897.7V1321.2H1898.8V1322.1H1899.7V1395.9H1901.7V1401.2H1903.7V1401.9H1905V1428.3Z" fill="#ff0000"/>
<path d="M1905 1428.3V1337.7H1907V1337H1909V1368.1H1911V1369.2H1912V1393.9H1912.9V1370.1H1915.1V1369.2H1917V1399.9H1919V1399H1919.9V1372.1H1921.9V1371H1923.9V1391.9H1925V1380H1926V1200.1H1930V1239.8H1932V1239.2H1932.9V1370.1H1934V1334.1H1936V1334.4H1937.9V1336.1H1939.9V1359.1H1941.9V1388H1943V1309.3H1944.9V1309H1946.9V1388H1948V1370.1H1948.9V1347H1950V1334.1H1952V1327.1H1953.9V1322.5H1955.9V1322.1H1957.9V1396.8H1959V1370.1H1961V1369.2H1961.9V1280.2H1963.9V1279.1H1964.9V1206.8H1968.9V1316.9H1970.9V1317.2H1972.9V1399.9H1974.8V1410.1H1976.8V1414H1977.9V1392.9H1978.9V1361.1H1980.9V1360.2H1982V1332.2H1983V1268H1985V1267.2H1987V1313.9H1989V1313H1989.9V1234.5H1991.9V1233.2H1993.9V1327.1H1994.9V1334.1H1996V1388H1996.9V1417.1H1998V1409.1H1998.9V1157.6H2002.9V1323.2H2005.9V1363.1H2007.9V1380H2009V1371H2011V1370.8H2011.9V1318.1H2014V1317.9H2016V1322.1H2018V1322.5H2019.9V1349H2021V1393.9H2021.9V1252.1H2023.9V1251.1H2025.9V1323.2H2027.9V1322.1H2029.9V1373H2031.9V1329.1H2034V1168.5H2037.9V1316.9H2039.9V1317.2H2041V1384H2043V1338.1H2044.9V1337H2046.9V1187.6H2050.9V1321.2H2052.9V1319.9H2053.9V1302H2055.9V1301.1H2057.9V1361.1H2059V1366.1H2061V1404.2H2062.9V1356.2H2064.9V1356.6H2066.9V1386H2068V1322.1H2069.9V1311.3H2071.9V1311H2073V1270H2073.9V1182.9H2077.9V1290.8H2079.9V1239.2H2081.9V1238.1H2083.8V1327.1H2085.8V1326.2H2087.9V1330.2H2089.9V1336.1H2091V1399H2093V1412.2H2094.9V1406.1H2096V1403.2H2098V1259H2100V1257.7H2102V1330.2H2103V1343H2105V1342.1H2107V1245.8H2109V1245.1H2111V1352.9H2112V1375.1H2112.9V1362.2H2114V1307.3H2116V1307H2118V1268.9H2119.9V1268H2121.9V1313.2H2123V1370.1H2123.9V1380H2125.9V1395H2127.9V1370.1H2129.9V1369.9H2132V1391H2132.9V1388.9H2134.9V1259H2136.9V1258.1H2138.9V1347H2139.9V1262.3H2141.9V1261.3H2143.9V1309.3H2145.9V1309H2147.9V1348H2150V1347H2152V1188.1H2155.9V1355.2H2157.9V1354.2H2159.9V1279.1H2161V1268H2162.9V1267.2H2164.9V1282.2H2166.9V1224H2168.9V1223H2170.9V1327.1H2173.9V1363.1H2175.9V1353.2H2177.9V1352.9H2179.9V1314.2H2181.9V1314.6H2183.8V1316.5H2185.8V1316.1H2187.8V1391.9H2188.9V1363.1H2190.8V1362.2H2193.8V1428.3Z" fill="#ff0000"/>
<path d="M1377.9 1425.9H1378.9V1417.7H1377.9ZM1418.1 1425.9H1421V1419.7H1418.1ZM1487 1425.9H1488.1V1420.4H1487ZM1572.2 1425.9H1577V1423.7H1572.2ZM1616.9 1425.9H1618.9V1422.4H1616.9ZM1691 1425.9H1693.9V1420H1691ZM1766 1425.9H1768V1421H1766ZM1774 1425.9H1775V1421H1774ZM1785 1425.9H1786V1422.4H1785ZM1791.9 1425.9H1793.9V1417.7H1791.9ZM1836.9 1425.9H1840.8V1423H1836.9ZM1886.7 1425.9H1887.8V1420.4H1886.7ZM1887.8 1425.9H1890.7V1424.3H1887.8ZM1890.7 1425.9H1893.4V1420H1890.7ZM1893.4 1425.9H1896.7V1422.4H1893.4ZM2027.9 1425.9H2028.9V1416.4H2027.9ZM2087 1425.9H2087.9V1417.7H2087ZM2161.9 1425.9H2162.9V1415.1H2161.9ZM2177.9 1425.9H2180.8V1423.7H2177.9Z" fill="#fff"/>
</g>
<rect x="1482.8" y="874.8" width="571.5" height="189.4" fill="#fff" stroke="#222222" stroke-width="3.2"/>
<path d="M1498.1 910.4H1660.1" stroke="#0000ff" stroke-width="4.1"/>
<path d="M1498.1 968.6H1660.1" stroke="#000" stroke-width="3.2" stroke-dasharray="22.3 7 6.1 7.2"/>
<path d="M1498.1 1026.8H1660.1" stroke="#ff0000" stroke-width="4.1"/>
<g font-family="'Liberation Sans', Arial, Helvetica, sans-serif" font-size="43.2" fill="#000">
<text x="1672.1" y="926.9">normal samples</text>
<text x="1672.1" y="985.1">detection threshold</text>
<text x="1672.1" y="1043.3">fault samples</text>
</g>
<g font-family="'Liberation Sans', Arial, Helvetica, sans-serif" font-size="48" fill="#404040">
<text transform="translate(1313.5 1493.1) scale(0.985 1.045)" text-anchor="middle">2.9</text>
<text transform="translate(1532.8 1493.1) scale(0.985 1.045)" text-anchor="middle">2.95</text>
<text transform="translate(1752.2 1493.1) scale(0.985 1.045)" text-anchor="middle">3</text>
<text transform="translate(1971.5 1493.1) scale(0.985 1.045)" text-anchor="middle">3.05</text>
<text transform="translate(2190.8 1493.1) scale(0.985 1.045)" text-anchor="middle">3.1</text>
<text transform="translate(1297.3 1446.9) scale(0.985 1.045)" text-anchor="end">0</text>
<text transform="translate(1297.3 1259.1) scale(0.985 1.045)" text-anchor="end">2</text>
<text transform="translate(1297.3 1071.2) scale(0.985 1.045)" text-anchor="end">4</text>
<text transform="translate(1297.3 883.4) scale(0.985 1.045)" text-anchor="end">6</text>
<text x="2080.3" y="1576.9" font-size="54.4" fill="#2a2a2a">×</text>
<text transform="translate(2115.3 1571) scale(0.985 1.045)">10</text>
<text transform="translate(2170.7 1547.4) scale(0.985 1.045)" font-size="38.4">4</text>
</g>
<text x="1753.7" y="1557.3" text-anchor="middle" font-family="'Liberation Sans', Arial, Helvetica, sans-serif" font-size="52.8" fill="#404040">samples</text>
<text x="1763.9" y="1609.6" text-anchor="middle" font-family="'Liberation Sans', Arial, Helvetica, sans-serif" font-size="52.8" fill="#000">(d)</text>
<text transform="translate(1241.5 1203.7) rotate(-90) scale(1.19 1)" font-family="'Liberation Serif', 'Times New Roman', serif" font-style="italic" font-size="56" fill="#222" stroke="#222" stroke-width="0.5" letter-spacing="1.3">SPE</text>
</g>
</svg></body></html>
